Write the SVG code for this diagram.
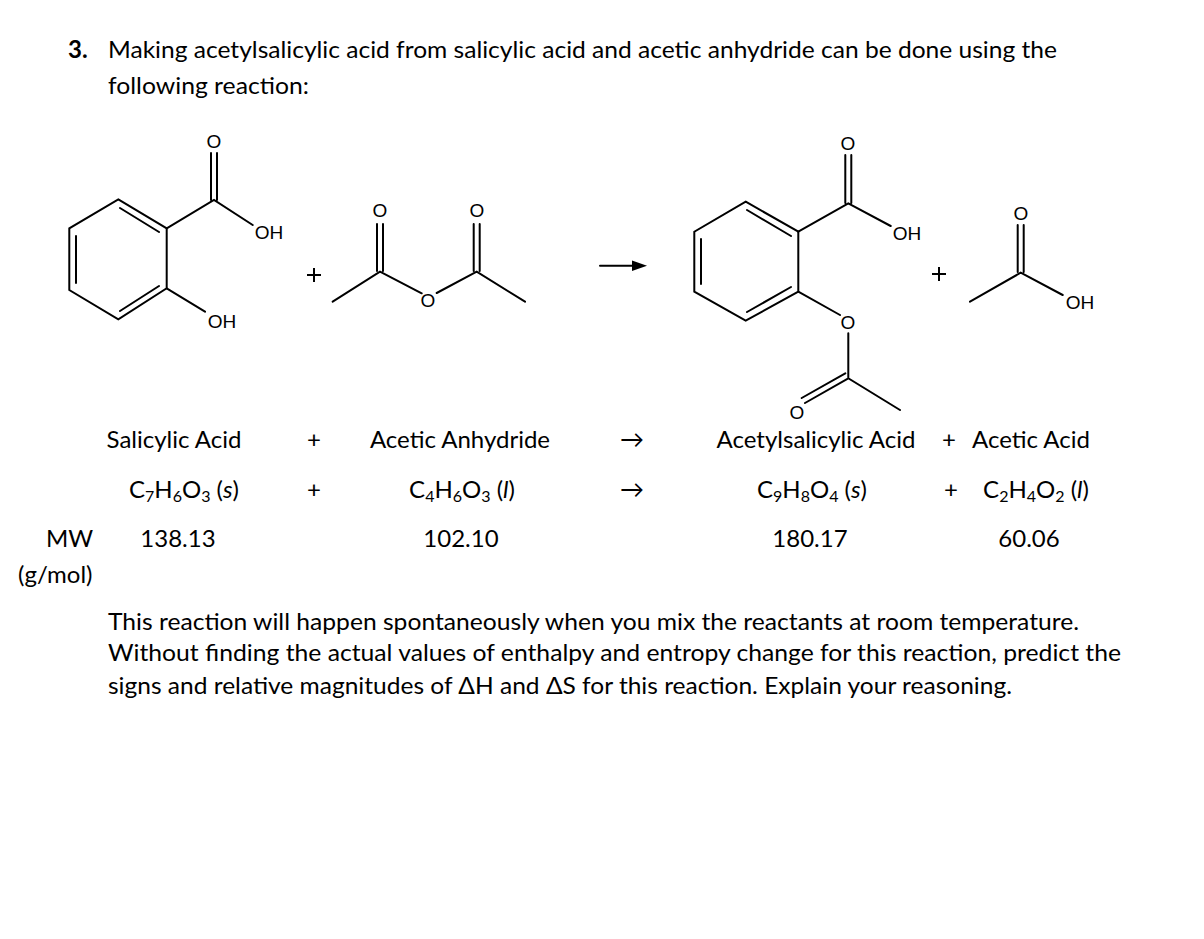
<svg xmlns="http://www.w3.org/2000/svg" width="1204" height="939" viewBox="0 0 1204 939">
<style>
.b{stroke:#000;stroke-width:2;fill:none;stroke-linecap:round}
.p{stroke:#000;stroke-width:2;fill:none}
.a{font-family:Arial,"Liberation Sans",sans-serif;font-size:19px;fill:#000;text-anchor:middle}
.t{font-family:Lato,"Liberation Sans",sans-serif;font-size:24px;fill:#000}
.c{text-anchor:middle}
</style>
<rect width="1204" height="939" fill="#fff"/>
<text class="t" x="68" y="58"><tspan font-weight="bold">3.</tspan></text>
<text class="t" x="108" y="58" textLength="949" lengthAdjust="spacingAndGlyphs">Making acetylsalicylic acid from salicylic acid and acetic anhydride can be done using the</text>
<text class="t" x="108" y="94" textLength="201" lengthAdjust="spacingAndGlyphs">following reaction:</text>
<g id="salicylic">
<path class="b" d="M118.3,199.3 L166.7,228.3 L166.7,288.3 L118.3,319.3 L69.3,290 L69.3,228.3 Z M76,236 V283 M120,208 L159,232 M120,311 L159,286"/>
<path class="b" d="M166.7,228.3 L214,200 L252.7,225 M211,200 V153 M217,200 V153 M166.7,288.3 L205,311.7"/>
<text class="a" x="214" y="148">O</text><text class="a" x="269" y="239">OH</text><text class="a" x="222" y="328">OH</text>
</g>
<path class="p" d="M307,275 H321 M314,268 V282"/>
<g id="anhydride">
<path class="b" d="M332.7,301.7 L380,271.7 L421.7,293.3 M436.7,293 L476.7,271.7 L525,301.7 M377,271 V224 M383,271 V224 M473.7,271 V224 M479.7,271 V224"/>
<text class="a" x="380" y="217">O</text><text class="a" x="428" y="307">O</text><text class="a" x="477" y="217">O</text>
</g>
<g id="connectors">
<path class="b" d="M600,265.7 H636"/><path d="M647,265.7 L632,260.5 L632,270.9 Z"/>
</g>
<g id="aspirin">
<path class="b" d="M745.7,201.7 L798.3,231.7 L798.3,291.7 L745.7,320.7 L694.3,291.7 L694.3,231.7 Z M701,239 V284 M747,210 L791,236 M747,312 L791,287"/>
<path class="b" d="M798.3,231.7 L848.3,203.3 L890.7,226 M845.3,203 V155 M851.3,203 V155 M798.3,291.7 L840,315 M848.3,333.3 V378.3 L900,410 M848.3,378.3 L805,403 M845.3,373.3 L801.7,398"/>
<text class="a" x="848" y="150">O</text><text class="a" x="907" y="240">OH</text><text class="a" x="848" y="329">O</text><text class="a" x="797" y="419">O</text>
</g>
<path class="p" d="M932,274 H946 M939,267 V281"/>
<g id="acetic">
<path class="b" d="M970,301.7 L1020.7,272.7 L1062.7,295 M1017.7,272 V225 M1023.7,272 V225"/>
<text class="a" x="1021" y="220">O</text><text class="a" x="1080" y="309">OH</text>
</g>
<g class="t">
<text class="c" x="174" y="448">Salicylic Acid</text>
<text class="c" x="314" y="448">+</text>
<text class="c" x="460" y="448">Acetic Anhydride</text>
<text class="c" x="632" y="448">→</text>
<text class="c" x="816" y="448">Acetylsalicylic Acid</text>
<text class="c" x="949" y="448">+</text>
<text class="c" x="1031" y="448">Acetic Acid</text>
<text class="c" x="184" y="498">C<tspan font-size="16" dy="4">7</tspan><tspan dy="-4">H</tspan><tspan font-size="16" dy="4">6</tspan><tspan dy="-4">O</tspan><tspan font-size="16" dy="4">3</tspan><tspan dy="-4"> (</tspan><tspan font-style="italic">s</tspan>)</text>
<text class="c" x="314" y="498">+</text>
<text class="c" x="462" y="498">C<tspan font-size="16" dy="4">4</tspan><tspan dy="-4">H</tspan><tspan font-size="16" dy="4">6</tspan><tspan dy="-4">O</tspan><tspan font-size="16" dy="4">3</tspan><tspan dy="-4"> (</tspan><tspan font-style="italic">l</tspan>)</text>
<text class="c" x="632" y="498">→</text>
<text class="c" x="812" y="498">C<tspan font-size="16" dy="4">9</tspan><tspan dy="-4">H</tspan><tspan font-size="16" dy="4">8</tspan><tspan dy="-4">O</tspan><tspan font-size="16" dy="4">4</tspan><tspan dy="-4"> (</tspan><tspan font-style="italic">s</tspan>)</text>
<text class="c" x="951" y="498">+</text>
<text class="c" x="1036" y="498">C<tspan font-size="16" dy="4">2</tspan><tspan dy="-4">H</tspan><tspan font-size="16" dy="4">4</tspan><tspan dy="-4">O</tspan><tspan font-size="16" dy="4">2</tspan><tspan dy="-4"> (</tspan><tspan font-style="italic">l</tspan>)</text>
<text x="46" y="547">MW</text>
<text class="c" x="178" y="547">138.13</text>
<text class="c" x="461" y="547">102.10</text>
<text class="c" x="810" y="547">180.17</text>
<text class="c" x="1029" y="547">60.06</text>
<text x="18" y="583">(g/mol)</text>
<text x="108" y="630" textLength="971" lengthAdjust="spacingAndGlyphs">This reaction will happen spontaneously when you mix the reactants at room temperature.</text>
<text x="108" y="661" textLength="1013" lengthAdjust="spacingAndGlyphs">Without finding the actual values of enthalpy and entropy change for this reaction, predict the</text>
<text x="108" y="694" textLength="904" lengthAdjust="spacingAndGlyphs">signs and relative magnitudes of ΔH and ΔS for this reaction. Explain your reasoning.</text>
</g>
</svg>
